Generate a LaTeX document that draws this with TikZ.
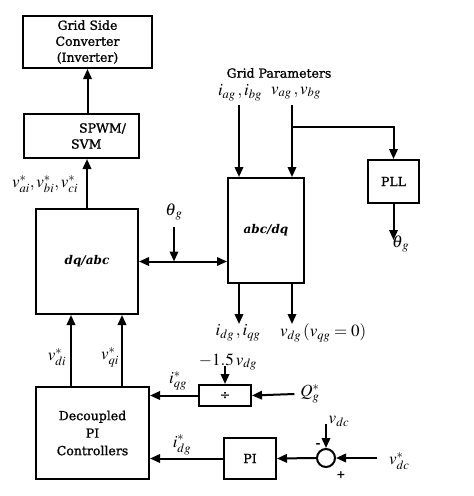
\documentclass[tikz,border=0pt]{standalone}
\usepackage{mathptmx}
\usepackage[no-math]{fontspec}
\setmainfont{DejaVu Serif}
\newfontfamily\boxfont{DejaVu Serif}[FakeBold=1.2]
\usetikzlibrary{arrows.meta}
\begin{document}
\begin{tikzpicture}[x=1pt,y=-1pt, line width=2pt,
  >={Triangle[length=10pt,width=8.5pt]},
  box/.style={draw, line width=2pt, inner sep=0pt, anchor=north west, align=center,
    font=\boxfont\fontsize{12.5}{16}\selectfont},
  lab/.style={font=\fontsize{17}{19}\selectfont, inner sep=0pt},
  txt/.style={font=\boxfont\fontsize{12.5}{16}\selectfont, inner sep=0pt}]
\path[use as bounding box] (0,0) rectangle (474,496);
% boxes
\node[box, minimum width=129pt, minimum height=52pt] (conv) at (22,15) {Grid Side\\Converter\\(Inverter)};
\node[box, minimum width=115pt, minimum height=44pt, align=left] (spwm) at (23,113) {\hspace*{42pt}SPWM/\\\hspace*{34pt}SVM};
\node[box, minimum width=102pt, minimum height=105pt, font=\bfseries\itshape\fontsize{12}{16}\selectfont] (dqabc) at (35,208) {dq/abc};
\node[box, minimum width=76pt, minimum height=105pt, font=\bfseries\itshape\fontsize{12}{16}\selectfont] (abcdq) at (227,177) {abc/dq};
\node[box, minimum width=51pt, minimum height=43pt] (pll) at (367,159) {PLL};
\node[box, minimum width=52pt, minimum height=21pt] (div) at (198,384) {÷};
\node[box, minimum width=113pt, minimum height=92pt, font=\boxfont\fontsize{12.5}{17.5}\selectfont] (dec) at (35,386) {Decoupled\\PI\\Controllers};
\node[box, minimum width=52pt, minimum height=41pt] (pi) at (223,437) {PI};
\node[draw, circle, line width=2pt, minimum size=18pt, inner sep=0pt] (sum) at (326,458) {};
% labels
\node[lab] (vabc) at (45,184) {$v_{ai}^*, v_{bi}^*, v_{ci}^*$};
\node[lab] (th1) at (174,212) {$\theta_{\mkern2mu g}$};
\node[txt] (gp) at (279,73) {Grid Parameters};
\node[lab] (iab) at (240,93) {$i_{ag}\,, i_{bg}$};
\node[lab] (vab) at (296,93) {$v_{ag}\,, v_{bg}$};
\node[lab, anchor=west] (th2) at (391,244) {$\theta_{\mkern2mu g}$};
\node[lab] (idq) at (238,333) {$i_{dg}\,, i_{qg}$};
\node[lab, anchor=west] (vdg) at (279,333) {$v_{dg}\,(v_{qg}=0)$};
\node[lab] (mv) at (228,362) {$-1.5\,v_{dg}$};
\node[lab] (q) at (310,394) {$Q_g^*$};
\node[lab] (iq) at (178,381) {$i_{qg}^*$};
\node[lab] (id) at (182,445) {$i_{dg}^*$};
\node[lab] (vdc) at (339,421) {$v_{dc}$};
\node[lab, anchor=west] (vdcr) at (388,461) {$v_{dc}^*$};
\node[lab] (vdi) at (57,357) {$v_{di}^*$};
\node[lab] (vqi) at (110,357) {$v_{qi}^*$};
\node[inner sep=0pt, font=\bfseries\fontsize{12}{12}\selectfont] (mn) at (318,445) {-};
\node[inner sep=0pt, font=\bfseries\fontsize{11}{11}\selectfont] (pl) at (341,475) {+};
% coordinates
\coordinate (ai) at ([xshift=12pt]abcdq.north west);
\coordinate (av) at ([xshift=-13pt]abcdq.north east);
\coordinate (br) at (av |- 0,127);
\coordinate (thj) at (th1 |- dqabc.east);
\coordinate (thout) at ([yshift=-36pt]pll.south);
\coordinate (vin) at (377,458);
\coordinate (vtop) at (326,424);
\coordinate (d1) at ([xshift=36pt]dec.north west);
\coordinate (d2) at ([xshift=87pt]dec.north west);
% connectors
\draw[->] (spwm.north -| conv.south) -- (conv.south);
\draw[->] (dqabc.north) -- (dqabc.north |- spwm.south);
\draw[<->] (dqabc.east) -- (abcdq.west |- dqabc.east);
\draw[->] (th1 |- 0,227) -- (thj);
\draw[->] (ai |- 0,105) -- (ai);
\draw[->] (av |- 0,105) -- (av);
\draw[->] (br) -| (pll.north);
\draw[->] (pll.south) -- (thout);
\draw[->] (ai |- abcdq.south) -- ++(0,40);
\draw[->] (av |- abcdq.south) -- ++(0,40);
\draw[->] (div.north |- 0,366) -- (div.north);
\draw[->] ([xshift=-5pt]q.west) -- (div.east);
\draw[->] (div.west) -- (div.west -| dec.east);
\draw[->] (pi.west) -- (pi.west -| dec.east);
\draw[->] (sum.west) -- (pi.east);
\draw[->] (vin) -- (sum.east);
\draw[->] (vtop) -- (sum.north);
\draw[->] (d1) -- (d1 |- dqabc.south);
\draw[->] (d2) -- (d2 |- dqabc.south);
\end{tikzpicture}
\end{document}
